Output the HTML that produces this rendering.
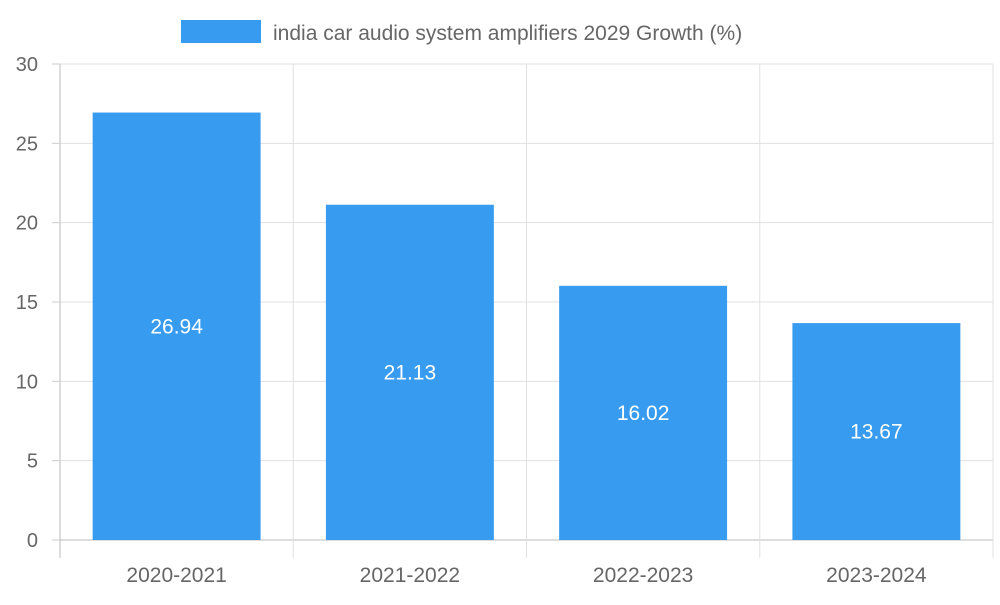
<!DOCTYPE html>
<html><head><meta charset="utf-8"><style>
body{margin:0;background:#fff;}
svg text{font-family:"Liberation Sans",sans-serif;}
</style></head><body>
<svg id="chart" width="1000" height="600" xmlns="http://www.w3.org/2000/svg">
<g>
<rect x="181" y="20" width="80" height="23" fill="#379bf0"/>
<text x="273" y="40" font-size="21" fill="#666">india car audio system amplifiers 2029 Growth (%)</text>
</g>
<g id="grid"></g>
<g id="bars"></g>
<g id="axes"></g>
</svg>
<script>
const categories = ["2020-2021","2021-2022","2022-2023","2023-2024"];
const values = [26.94, 21.13, 16.02, 13.67];
const valueLabels = ["26.94","21.13","16.02","13.67"];
const yTicks = [0,5,10,15,20,25,30];

const NS="http://www.w3.org/2000/svg";
const L=60,R=993,T=64,B=540,yMax=30;
const y=v=>B-(v/yMax)*(B-T);
const bandW=(R-L)/categories.length;
const x=i=>L+i*bandW;
function mk(tag,attrs,parent){const e=document.createElementNS(NS,tag);for(const k in attrs)e.setAttribute(k,attrs[k]);parent.appendChild(e);return e;}
const grid=document.getElementById('grid'),bars=document.getElementById('bars'),axes=document.getElementById('axes');
yTicks.forEach(t=>{
  const ln=mk('line',{x1:L,x2:R,y1:y(t),y2:y(t),stroke:t===0?'#bbb':'#e0e0e0','stroke-width':1},grid);
  
  
  const tk=mk('line',{x1:L-8,x2:L,y1:y(t),y2:y(t),stroke:'#ccc'},axes);
  
  
  const tx=mk('text',{x:L-22,y:y(t)+7,'text-anchor':'end','font-size':20,fill:'#666'},axes);
  tx.textContent=t;
  
  
});
for(let i=0;i<=categories.length;i++){
  const ln=mk('line',{x1:x(i),x2:x(i),y1:T,y2:B+18,stroke:i===0?'#bbb':'#e0e0e0'},grid);
  
  
}
categories.forEach((c,i)=>{
  const bw=bandW*0.72, bx=x(i)+(bandW-bw)/2;
  const r=mk('rect',{x:bx,y:y(values[i]),width:bw,height:B-y(values[i]),fill:'#379bf0'},bars);
  
  
  const vl=mk('text',{x:bx+bw/2,y:(y(values[i])+B)/2+7,'text-anchor':'middle','font-size':21,fill:'#fff'},bars);
  vl.textContent=valueLabels[i];
  
  
  const xl=mk('text',{x:x(i)+bandW/2,y:582,'text-anchor':'middle','font-size':21,fill:'#666'},axes);
  xl.textContent=c;
  
  
});
</script>
</body></html>
